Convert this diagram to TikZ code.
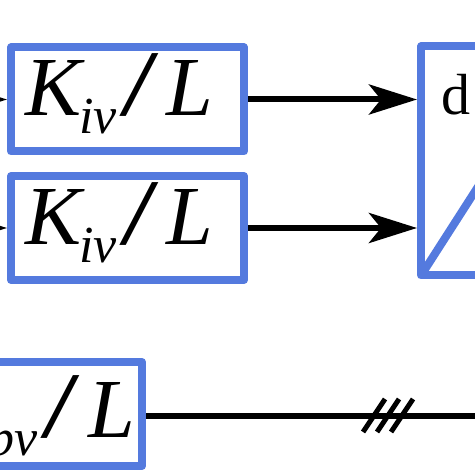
\documentclass[tikz,border=0pt]{standalone}
\usepackage{fontspec}
\setmainfont{Liberation Serif}
\usetikzlibrary{arrows.meta,positioning}
\definecolor{blkblue}{RGB}{84,122,222}
\newcommand{\gainfrac}[1]{\textit{K}\hspace{-3pt}\raisebox{-9pt}{\fontsize{26}{28}\selectfont\textit{#1}}\hspace{4.5pt}{\fontsize{47}{48}\selectfont\bfseries\itshape /}\hspace{7.5pt}\textit{L}}

\begin{document}
\begin{tikzpicture}[x=0.5pt, y=-0.5pt, >={Stealth[length=24pt,width=15pt,inset=6pt]},
  blk/.style={draw=blkblue, line width=4pt, line join=round, inner sep=0pt, fill=white,
    font=\fontsize{42}{46}\selectfont},
  sig/.style={line width=3pt},
  tick/.style={line width=2.5pt}]
  \useasboundingbox (0,0) rectangle (474,474);

  \node[blk, minimum width=116.5pt, minimum height=52pt] (kiv1) at (127.5,99.5) {\raisebox{-8.25pt}[0pt][0pt]{\gainfrac{iv}}\hspace*{8pt}};
  \node[blk, minimum width=116.5pt, minimum height=52pt] (kiv2) at (127.5,228) {\raisebox{-8.25pt}[0pt][0pt]{\gainfrac{iv}}\hspace*{8pt}};
  \node[blk, minimum width=107pt, minimum height=52pt] (kpv) at (35,414) {\raisebox{-11.5pt}[0pt][0pt]{\gainfrac{pv}}};
  \node[blk, minimum width=73.5pt, minimum height=114.5pt,
    path picture={\draw[blkblue, line width=4pt] (path picture bounding box.south west) -- (path picture bounding box.north east);}] (dq) at (494.5,161) {};
  \node[font=\fontsize{29}{32}\selectfont, anchor=base west, inner sep=0pt] (dlbl) at (441,115) {d};

  \coordinate (in1) at (-60,99.5);
  \coordinate (in2) at (-60,228);
  \coordinate (out3) at (520,415.5);

  \draw[sig, ->] (in1) -- (kiv1.west);
  \draw[sig, ->] (in2) -- (kiv2.west);
  \draw[sig, ->] (kiv1.east) -- (kiv1.east -| dq.west);
  \draw[sig, ->] (kiv2.east) -- (kiv2.east -| dq.west);
  \draw[sig] (kpv.east |- out3) -- (out3);
  \foreach \sx in {374,388,402}
    \draw[tick] (\sx-11,432) -- (\sx+11,399);
\end{tikzpicture}
\end{document}
